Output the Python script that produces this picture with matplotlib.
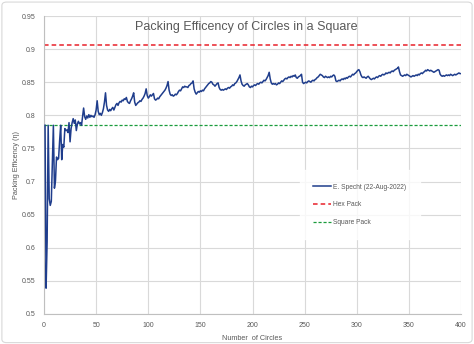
import numpy as np
import matplotlib.pyplot as plt
from matplotlib.patches import FancyBboxPatch

# packing efficiency for n = 1..400
specht = [
    0.785, 0.539, 0.609, 0.785, 0.674, 0.664, 0.670, 0.730, 0.785, 0.690,
    0.701, 0.737, 0.733, 0.735, 0.762, 0.785, 0.733, 0.756, 0.752, 0.780,
    0.777, 0.778, 0.774, 0.789, 0.760, 0.780, 0.789, 0.795, 0.788, 0.793,
    0.777, 0.787, 0.791, 0.787, 0.789, 0.785, 0.798, 0.811, 0.798, 0.794,
    0.799, 0.796, 0.801, 0.797, 0.800, 0.798, 0.799, 0.797, 0.801, 0.808,
    0.822, 0.806, 0.801, 0.803, 0.800, 0.804, 0.810, 0.820, 0.834, 0.815,
    0.808, 0.806, 0.809, 0.807, 0.810, 0.812, 0.808, 0.812, 0.816, 0.818,
    0.815, 0.819, 0.821, 0.820, 0.823, 0.822, 0.825, 0.824, 0.827, 0.821,
    0.819, 0.818, 0.822, 0.825, 0.829, 0.834, 0.820, 0.815, 0.817, 0.819,
    0.820, 0.822, 0.821, 0.824, 0.826, 0.829, 0.833, 0.840, 0.830, 0.826,
    0.828, 0.831, 0.829, 0.831, 0.833, 0.825, 0.823, 0.824, 0.826, 0.825,
    0.828, 0.830, 0.832, 0.834, 0.836, 0.838, 0.841, 0.845, 0.851, 0.838,
    0.832, 0.830, 0.831, 0.829, 0.830, 0.832, 0.831, 0.833, 0.836, 0.838,
    0.837, 0.840, 0.843, 0.842, 0.844, 0.843, 0.843, 0.842, 0.845, 0.846,
    0.848, 0.849, 0.852, 0.840, 0.835, 0.832, 0.834, 0.836, 0.835, 0.837,
    0.836, 0.838, 0.837, 0.840, 0.842, 0.844, 0.846, 0.848, 0.849, 0.851,
    0.850, 0.847, 0.846, 0.844, 0.846, 0.848, 0.849, 0.842, 0.839, 0.838,
    0.839, 0.838, 0.839, 0.840, 0.839, 0.841, 0.842, 0.841, 0.843, 0.844,
    0.846, 0.845, 0.848, 0.849, 0.851, 0.854, 0.857, 0.861, 0.852, 0.847,
    0.845, 0.844, 0.846, 0.847, 0.848, 0.846, 0.843, 0.842, 0.844, 0.843,
    0.845, 0.846, 0.845, 0.847, 0.848, 0.847, 0.849, 0.850, 0.849, 0.851,
    0.853, 0.852, 0.854, 0.857, 0.860, 0.865, 0.855, 0.849, 0.847, 0.848,
    0.847, 0.848, 0.846, 0.847, 0.849, 0.848, 0.850, 0.852, 0.851, 0.853,
    0.855, 0.856, 0.855, 0.857, 0.858, 0.857, 0.859, 0.858, 0.860, 0.859,
    0.861, 0.857, 0.856, 0.858, 0.859, 0.860, 0.862, 0.850, 0.848, 0.849,
    0.850, 0.849, 0.851, 0.852, 0.851, 0.850, 0.852, 0.853, 0.852, 0.854,
    0.855, 0.857, 0.858, 0.860, 0.862, 0.861, 0.860, 0.858, 0.857, 0.859,
    0.858, 0.857, 0.858, 0.857, 0.859, 0.858, 0.860, 0.861, 0.859, 0.852,
    0.851, 0.852, 0.853, 0.852, 0.854, 0.855, 0.854, 0.856, 0.855, 0.857,
    0.856, 0.858, 0.859, 0.858, 0.860, 0.862, 0.861, 0.863, 0.864, 0.866,
    0.868, 0.869, 0.866, 0.861, 0.858, 0.857, 0.858, 0.857, 0.856, 0.858,
    0.859, 0.857, 0.855, 0.854, 0.855, 0.856, 0.855, 0.857, 0.858, 0.857,
    0.859, 0.860, 0.859, 0.861, 0.862, 0.861, 0.862, 0.864, 0.863, 0.864,
    0.865, 0.864, 0.866, 0.867, 0.866, 0.868, 0.869, 0.870, 0.871, 0.873,
    0.866, 0.861, 0.860, 0.859, 0.860, 0.861, 0.860, 0.862, 0.861, 0.860,
    0.859, 0.858, 0.859, 0.860, 0.859, 0.860, 0.861, 0.860, 0.862, 0.861,
    0.863, 0.864, 0.863, 0.865, 0.866, 0.868, 0.867, 0.869, 0.868, 0.867,
    0.868, 0.867, 0.866, 0.865, 0.866, 0.867, 0.868, 0.869, 0.868, 0.862,
    0.860, 0.859, 0.860, 0.859, 0.860, 0.861, 0.860, 0.861, 0.860, 0.862,
    0.861, 0.860, 0.861, 0.862, 0.861, 0.862, 0.863, 0.864, 0.863, 0.863,
]
n_circles = np.arange(1, len(specht) + 1)

hex_pack = np.pi / (2 * np.sqrt(3))
square_pack = np.pi / 4

plt.rcParams['font.family'] = ['Liberation Sans', 'DejaVu Sans']

fig = plt.figure(figsize=(4.74, 3.44), dpi=100)
ax = fig.add_axes([44 / 474, 30 / 344, 417 / 474, 298 / 344])

grey = '#595959'
ax.plot(n_circles, specht, color='#1f3d8c', lw=1.1, label='E. Specht (22-Aug-2022)', zorder=3)
ax.axhline(hex_pack, color='#e8202a', lw=1.1, ls=(0, (3, 2)), label='Hex Pack', zorder=2)
ax.axhline(square_pack, color='#1a9c3c', lw=0.9, ls=(0, (2.5, 1.5)), label='Square Pack', zorder=2)

ax.set_xlim(0, 400)
ax.set_ylim(0.5, 0.95)
ax.set_xticks(np.arange(0, 401, 50))
ax.set_yticks(np.arange(0.5, 0.951, 0.05))
ax.set_yticklabels(['0.5', '0.55', '0.6', '0.65', '0.7', '0.75', '0.8', '0.85', '0.9', '0.95'])
ax.grid(True, color='#d9d9d9', lw=0.8)
ax.set_axisbelow(True)
for s in ['top', 'right']:
    ax.spines[s].set_visible(False)
for s in ['left', 'bottom']:
    ax.spines[s].set_color('#bfbfbf')
ax.tick_params(length=0, labelsize=5, labelcolor=grey, pad=6)

ax.text(0.484, 0.982, 'Packing Efficency of Circles in a Square', transform=ax.transAxes,
        ha='center', va='top', fontsize=9, color=grey)
ax.set_xlabel('Number  of Circles', fontsize=5.2, color=grey, labelpad=4)
ax.set_ylabel('Packing Efficency (\u03b7)', fontsize=5.2, color=grey, labelpad=1.5)

leg = ax.legend(loc='center', bbox_to_anchor=(360 / 474, 1 - 205 / 344),
                bbox_transform=fig.transFigure, fontsize=4.8, frameon=True,
                fancybox=False, handlelength=2.6, handletextpad=0.4,
                labelspacing=1.6, borderpad=2.0, borderaxespad=0)
leg.get_frame().set_facecolor('white')
leg.get_frame().set_edgecolor('white')
for t in leg.get_texts():
    t.set_color(grey)

fig.patches.append(FancyBboxPatch((0.004, 0.004), 0.992, 0.99, boxstyle='round,pad=0,rounding_size=0.01',
                                  transform=fig.transFigure, fill=False, ec='#d9d9d9', lw=0.8))

fig.savefig('out.png', dpi=100)
